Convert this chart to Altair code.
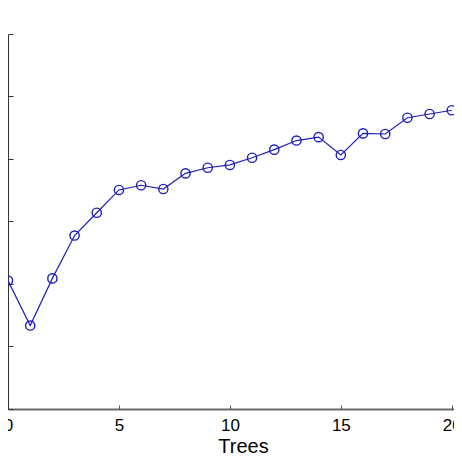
import altair as alt
import pandas as pd

trees = list(range(21))
score = [0.7411, 0.7267, 0.7418, 0.7555, 0.7628, 0.7701, 0.7716, 0.7704,
         0.7754, 0.7772, 0.7781, 0.7804, 0.7830, 0.7859, 0.7870, 0.7813,
         0.7882, 0.7880, 0.7932, 0.7944, 0.7956]
x_ticks = [0, 5, 10, 15, 20]
y_ticks = [0.70, 0.72, 0.74, 0.76, 0.78, 0.80, 0.82]

df = pd.DataFrame({"tree": trees, "score": score})

W, H = 446, 375
FONT = "Liberation Sans"
BLUE = "#1e1eb8"

xscale = alt.Scale(domain=[0, 20.1], nice=False, zero=False)
yscale = alt.Scale(domain=[0.70, 0.82], nice=False, zero=False)

base = alt.Chart(df)

line = base.mark_line(color=BLUE, strokeWidth=1.2).encode(
    x=alt.X("tree:Q", scale=xscale, axis=alt.Axis(
        orient="bottom", values=x_ticks, ticks=False, grid=False,
        domainColor="#6a6a6a", domainWidth=2, labelFont=FONT, labelFontSize=17,
        labelColor="#000000", labelPadding=8, labelFlush=False,
        title="Trees", titleFont=FONT, titleFontSize=20, titleFontWeight="normal",
        titleColor="#000000", titleX=235, titleY=43, titleBaseline="alphabetic",
        titleAnchor="middle")),
    y=alt.Y("score:Q", scale=yscale, axis=alt.Axis(
        orient="right", offset=-W, values=y_ticks, labels=False, title=None,
        grid=False, ticks=True, tickSize=5, tickColor="#333333", tickWidth=1,
        domainColor="#333333", domainWidth=1)),
)

points = base.mark_point(color=BLUE, filled=False, size=85, strokeWidth=1.4,
                         opacity=1).encode(
    x=alt.X("tree:Q", scale=xscale, axis=alt.Axis(
        orient="top", offset=-H, values=x_ticks, labels=False, title=None,
        domain=False, grid=False, ticks=True, tickSize=4, tickColor="#555555",
        tickWidth=1)),
    y=alt.Y("score:Q", scale=yscale, axis=None),
)

chart = alt.layer(line, points).resolve_axis(x="independent", y="independent").properties(
    width=W, height=H,
    background="white",
    autosize=alt.AutoSizeParams(type="none"),
    padding={"left": 0, "top": 26, "right": 0, "bottom": 45},
).configure_view(strokeWidth=0, stroke="transparent")

chart.save("out.html", embed_options={"renderer": "svg", "actions": False})
